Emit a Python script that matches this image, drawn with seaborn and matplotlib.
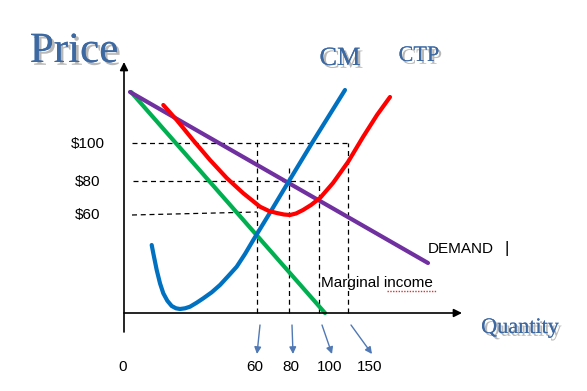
import matplotlib
matplotlib.use("Agg")
import matplotlib.pyplot as plt
import matplotlib.patheffects as pe
import seaborn as sns
import pandas as pd

# ---- data (schematic units: x = quantity axis offset, y = price axis offset) ----
demand_x = [6, 304]
demand_y = [221, 50]

mr_x = [7, 201]
mr_y = [221, 0]

cm_x = [27.7, 29.3, 32.7, 36, 39.3, 43.3, 47.7, 52, 56, 61, 66, 72.7, 79.3, 87.7, 96, 104.3, 112.7, 121, 129.3, 147, 165, 188, 221]
cm_y = [68, 59.7, 43, 29.7, 19.7, 12.3, 7, 4.7, 4, 4.7, 6.3, 10.3, 14.7, 20.7, 28, 37, 46.3, 59, 73, 102, 132, 170, 223]

ctp_x = [39.3, 52.7, 69, 86, 102.7, 119, 136, 145, 152.7, 160, 166, 172, 179, 187, 196, 209, 224, 239, 253, 266]
ctp_y = [208, 193, 173, 153, 135, 120, 106.3, 102, 100, 98.5, 98, 99.5, 103, 108, 115, 130, 151, 176, 198, 216]

price_levels = [170, 132, 99]
price_labels = ["$100", "$80", "$60"]

qty_levels = [133, 165, 195, 224]
qty_label_pos = [131, 167, 206, 246]
qty_labels = ["60", "80", "100", "150"]

sns.set_theme(style="white")
plt.rcParams['font.family'] = ['Liberation Sans', 'DejaVu Sans']

fig = plt.figure(figsize=(5.87, 3.91), dpi=100)
ax = fig.add_axes([0, 0, 1, 1])
ax.set_xlim(-124, 463)
ax.set_ylim(-78, 313)
ax.axis("off")

# dashed guide lines
dash = dict(color="black", lw=0.9, ls=(0, (4, 3)))
ax.plot([8, qty_levels[3]], [price_levels[0]] * 2, **dash)
ax.plot([9, qty_levels[2]], [price_levels[1]] * 2, **dash)
ax.plot([8, qty_levels[0]], [price_levels[2] - 1, price_levels[2] + 2], **dash)
ax.plot([qty_levels[0]] * 2, [0, price_levels[0]], **dash)
ax.plot([qty_levels[1]] * 2, [0, 146], **dash)
ax.plot([qty_levels[2]] * 2, [0, price_levels[1]], **dash)
ax.plot([qty_levels[3]] * 2, [0, price_levels[0]], **dash)

# axes with arrows
ax.annotate("", xy=(0, 251), xytext=(0, -19),
            arrowprops=dict(arrowstyle="-|>", color="black", lw=1.2, mutation_scale=12, shrinkA=0, shrinkB=0))
ax.annotate("", xy=(338, 0), xytext=(0, 0),
            arrowprops=dict(arrowstyle="-|>", color="black", lw=1.2, mutation_scale=12, shrinkA=0, shrinkB=0))

lw = 3.0
common = dict(ax=ax, lw=lw, sort=False, estimator=None, solid_joinstyle="round")
sns.lineplot(x=mr_x, y=mr_y, color="#00B050", **common)
sns.lineplot(x=demand_x, y=demand_y, color="#7030A0", **common)
sns.lineplot(x=cm_x, y=cm_y, color="#0070C0", **common)
sns.lineplot(x=ctp_x, y=ctp_y, color="#FF0000", **common)

# price labels
for yv, lab in zip(price_levels, price_labels):
    ax.text(-36, yv - 1, lab, ha="center", va="center", fontsize=11, color="black")

# quantity labels and arrows
arrow_col = "#4F78B5"
for q, xp, lab in zip(qty_levels, qty_label_pos, qty_labels):
    ax.annotate("", xy=(xp + 2, -41), xytext=(q + 3, -12),
                arrowprops=dict(arrowstyle="-|>", color=arrow_col, lw=1.0, mutation_scale=10, shrinkA=0, shrinkB=0))
    ax.text(xp, -54, lab, ha="center", va="center", fontsize=11, color="black")
ax.text(-1, -54, "0", ha="center", va="center", fontsize=11, color="black")

# curve labels
ax.text(304, 64, "DEMAND", ha="left", va="center", fontsize=11, color="black")
ax.text(381, 64, "|", ha="left", va="center", fontsize=12, color="black")
ax.text(197, 30, "Marginal income", ha="left", va="center", fontsize=11, color="black")
ax.plot([263, 313], [22, 22], color="#E03030", lw=1.0, ls=(0, (1, 1)))

title_col = "#3D69A3"
shadow = [pe.withSimplePatchShadow(offset=(2, -2), shadow_rgbFace="#9A9A9A", alpha=0.7), pe.Normal()]
ax.text(-50, 251, "Price", ha="center", va="baseline", fontsize=31, color=title_col,
        family="Liberation Serif", path_effects=shadow)
ax.text(216, 248, "CM", ha="center", va="baseline", fontsize=19, color=title_col,
        family="Liberation Serif", path_effects=shadow)
ax.text(295, 252, "CTP", ha="center", va="baseline", fontsize=16, color=title_col,
        family="Liberation Serif", path_effects=shadow)
ax.text(396, -20, "Quantity", ha="center", va="baseline", fontsize=16, color=title_col,
        family="Liberation Serif", path_effects=shadow)

fig.savefig("out.png", dpi=100)
